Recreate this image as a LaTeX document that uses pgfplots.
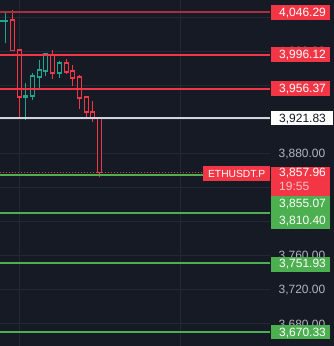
\documentclass[border=0pt]{standalone}
\usepackage{pgfplots}
\pgfplotsset{compat=1.18}
\usepackage{fontspec}
\setmainfont{Liberation Sans}
\definecolor{bgc}{HTML}{161A25}
\definecolor{gridc}{HTML}{242834}
\definecolor{upc}{HTML}{22A38C}
\definecolor{dnc}{HTML}{F23645}
\definecolor{lvlred}{HTML}{F23645}
\definecolor{lvldark}{HTML}{A8303C}
\definecolor{lvlgreen}{HTML}{4CAF50}
\definecolor{lvlwhite}{HTML}{D1D4DC}
\definecolor{tickc}{HTML}{B2B5BE}
\definecolor{pinkc}{HTML}{FBC3C8}
\definecolor{darktxt}{HTML}{131722}
\newcommand\lbl{\fontsize{12}{14}\selectfont}
% candle: x, open, high, low, close, colour
\newcommand\candle[6]{%
  \pgfmathsetmacro\cxl{#1-1.95}%
  \pgfmathsetmacro\cxr{#1+1.95}%
  \edef\cmd{%
    \noexpand\addplot[draw=#6, line width=1.2pt] coordinates {(#1,#4) (#1,#3)};%
    \noexpand\addplot[draw=#6, fill=bgc, line width=1.2pt] coordinates {(\cxl,#2) (\cxr,#2) (\cxr,#5) (\cxl,#5)} -- cycle;%
  }\cmd}
% level line: price, colour, width
\newcommand\level[3]{\addplot[draw=#2, line width=#3] coordinates {(0,#1) (270,#1)};}
% price box: box centre, box height, fill, box width
\newcommand\pbox[4]{\node[fill=#3, minimum width=#4, minimum height=#2, anchor=west, inner sep=0pt] at (axis cs:271,#1) {};}
% price text: centre, colour, text
\newcommand\ptxt[3]{\node[text=#2, anchor=west, inner sep=0pt, text height=8.6pt, text depth=0pt, font=\lbl] at (axis cs:279,#1) {#3};}
\newcommand\tlbl[2]{\node[text=tickc, anchor=east, inner sep=0pt, text height=8.6pt, text depth=0pt, font=\lbl] at (axis cs:325.5,#1) {#2};}
\begin{document}
\begin{tikzpicture}
\begin{axis}[width=334pt, height=346pt, scale only axis,
  xmin=0, xmax=334, ymin=3653.84, ymax=4060.39,
  axis line style={draw=none}, xtick=\empty, ytick=\empty,
  axis background/.style={fill=bgc}, clip=true]
% grid
\addplot[gridc, line width=1pt] coordinates {(19.5,3650) (19.5,4065)};
\addplot[gridc, line width=1pt] coordinates {(180.5,3650) (180.5,4065)};
\addplot[gridc, line width=1pt] coordinates {(0,4040) (270,4040)};
\addplot[gridc, line width=1pt] coordinates {(0,4000) (270,4000)};
\addplot[gridc, line width=1pt] coordinates {(0,3960) (270,3960)};
\addplot[gridc, line width=1pt] coordinates {(0,3920) (270,3920)};
\addplot[gridc, line width=1pt] coordinates {(0,3880) (270,3880)};
\addplot[gridc, line width=1pt] coordinates {(0,3840) (270,3840)};
\addplot[gridc, line width=1pt] coordinates {(0,3800) (270,3800)};
\addplot[gridc, line width=1pt] coordinates {(0,3760) (270,3760)};
\addplot[gridc, line width=1pt] coordinates {(0,3720) (270,3720)};
\addplot[gridc, line width=1pt] coordinates {(0,3680) (270,3680)};
% candles: x, open, high, low, close
\candle{0.5}{4035.3}{4036.5}{4034.8}{4036.0}{upc}
\candle{5.5}{4035.13}{4045.47}{4010.22}{4036.30}{upc}
\candle{12.5}{4036.89}{4048.64}{4000.82}{4000.82}{dnc}
\candle{19.5}{4001.64}{4002.0}{3923.30}{3946.42}{dnc}
\candle{25.5}{3946.42}{3962.50}{3919.40}{3948.18}{upc}
\candle{32.5}{3947.59}{3974.62}{3942.89}{3971.09}{upc}
\candle{39.5}{3969.92}{3989.89}{3957.00}{3978.14}{upc}
\candle{45.5}{3976.97}{3998.12}{3971.09}{3996.94}{upc}
\candle{52.5}{3995.77}{4001.64}{3967.57}{3974.62}{dnc}
\candle{59.5}{3974.62}{3988.72}{3968.74}{3986.37}{upc}
\candle{66.5}{3986.37}{3991.09}{3973.44}{3975.79}{dnc}
\candle{72.5}{3976.97}{3984.02}{3959.34}{3968.74}{dnc}
\candle{79.5}{3969.92}{3972.27}{3932.32}{3945.24}{dnc}
\candle{86.5}{3946.42}{3947.59}{3920.57}{3928.79}{dnc}
\candle{92.5}{3928.79}{3941.72}{3917.04}{3921.83}{dnc}
\candle{99.5}{3921.83}{3922.2}{3851.83}{3857.96}{dnc}
% levels
\level{4046.29}{lvldark}{2pt}
\level{3996.12}{lvlred}{2pt}
\level{3956.37}{lvlred}{2pt}
\level{3921.83}{lvlwhite}{2pt}
\level{3855.07}{lvlgreen}{2pt}
\level{3810.40}{lvlgreen}{2pt}
\level{3751.93}{lvlgreen}{2pt}
\level{3670.33}{lvlgreen}{2pt}
\addplot[draw=dnc, line width=1pt, dash pattern=on 1pt off 2pt] coordinates {(0,3857.96) (270,3857.96)};
% tick labels (those not covered by price boxes)
\tlbl{4000}{4,000.00}
\tlbl{3880}{3,880.00}
\tlbl{3760}{3,760.00}
\tlbl{3720}{3,720.00}
\tlbl{3680}{3,680.00}
% price boxes
\pbox{4045.6}{15.5pt}{lvlred}{59pt}\ptxt{4046.29}{white}{4,046.29}
\pbox{3996.12}{15pt}{lvlred}{59pt}\ptxt{3996.12}{white}{3,996.12}
\pbox{3956.37}{15pt}{lvlred}{59pt}\ptxt{3956.37}{white}{3,956.37}
\pbox{3921.83}{14pt}{white}{62pt}\ptxt{3921.83}{darktxt}{3,921.83}
\pbox{3847.48}{29pt}{lvlred}{59pt}\ptxt{3857.7}{white}{3,857.96}\ptxt{3841.6}{pinkc}{19:55}
\pbox{3810.7}{33.6pt}{lvlgreen}{59pt}\ptxt{3822.1}{white}{3,855.07}\ptxt{3801.3}{white}{3,810.40}
\pbox{3749.6}{15pt}{lvlgreen}{59pt}\ptxt{3751.0}{white}{3,751.93}
\pbox{3669.9}{14pt}{lvlgreen}{59pt}\ptxt{3670.33}{white}{3,670.33}
\node[fill=lvlred, text=white, minimum width=67pt, minimum height=15pt, anchor=west, inner sep=0pt, font=\fontsize{10.3}{12}\selectfont] at (axis cs:203,3856.3) {ETHUSDT.P};
\end{axis}
\end{tikzpicture}
\end{document}
